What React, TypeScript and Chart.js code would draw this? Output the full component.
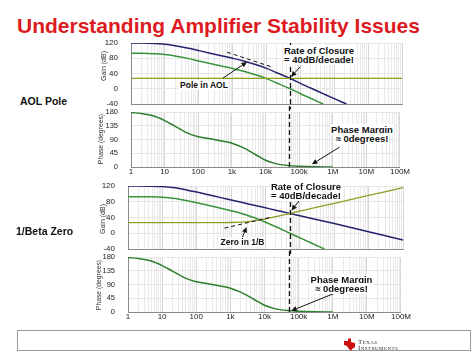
import React, { useEffect, useRef } from "react";
import { Chart, registerables } from "chart.js";
Chart.register(...registerables);

// ---------------- data ----------------
const decadeTicks = [1, 10, 100, 1e3, 1e4, 1e5, 1e6, 1e7, 1e8];
const decadeLabels = ["1", "10", "100", "1k", "10k", "100k", "1M", "10M", "100M"];
const gainTicks = [-40, 0, 40, 80, 120];
const phaseTicks = [0, 45, 90, 135, 180];

// top: pole in AOL
const topAolFreq = [1, 2, 5, 10, 20, 50, 100, 200, 500, 1e3, 2e3, 5e3, 1e4, 2e4, 5e4, 1e5, 2e5, 5e5, 1e6, 2.3e6];
const topAolGain = [120, 120, 119, 117, 113, 106, 100, 94, 86, 80, 73.5, 63, 53.5, 42, 27, 14, 2, -14, -26, -40];
const topLoopFreq = [1, 2, 5, 10, 20, 50, 100, 200, 500, 1e3, 2e3, 5e3, 1e4, 2e4, 5e4, 1e5, 2e5, 4.7e5];
const topLoopGain = [93, 93, 92, 90, 86, 79, 73, 67, 59, 53, 46.5, 36, 26.5, 15, 0, -13, -25, -40];
const topInvBetaFreq = [1, 1e8];
const topInvBetaGain = [27, 27];
const topPhaseFreq = [1, 2, 5, 10, 20, 50, 100, 200, 500, 1e3, 2e3, 5e3, 1e4, 2e4, 5e4, 1e5, 3e5, 1e6];
const topPhase = [178, 175, 166, 152, 134, 110, 99, 93, 85, 78, 65, 41, 22, 11, 4.5, 2.3, 0.8, 0.2];

// bottom: zero in 1/beta
const botAolFreq = [1, 5, 10, 20, 50, 100, 200, 500, 1e3, 2e3, 5e3, 1e4, 2e4, 5e4, 1e5, 1e6, 1e7, 1e8];
const botAolGain = [120, 119.5, 118.5, 116, 110, 104.5, 98.5, 90.5, 84.5, 78.5, 70.5, 64.5, 58.5, 50.5, 44.5, 24.5, 4, -17];
const botInvBetaFreq = [1, 100, 500, 1e3, 2e3, 3.5e3, 5e3, 1e4, 2e4, 5e4, 1e5, 1e6, 1e7, 1e8];
const botInvBetaGain = [27, 27, 27.1, 27.3, 28.2, 30, 31.8, 36.5, 42, 50, 56, 76, 96, 116];
const botLoopFreq = [1, 5, 10, 20, 50, 100, 200, 500, 1e3, 2e3, 5e3, 1e4, 2e4, 5e4, 1e5, 2e5, 5.2e5];
const botLoopGain = [93, 92.5, 91.5, 89, 83, 77.5, 71.5, 63.4, 57.2, 50.3, 38.7, 28, 16.5, 0.5, -11.5, -23.5, -40];
const botPhaseFreq = [1, 2, 5, 10, 20, 50, 100, 200, 500, 1e3, 2e3, 5e3, 1e4, 2e4, 5e4, 1e5, 3e5, 1e6];
const botPhase = [178, 175, 166, 152, 134, 110, 99, 93, 85, 78, 65, 41, 22, 11, 4.5, 2.3, 0.8, 0.2];

// annotation anchors (data space)
const topCrossFreq = 4.9e4;
const botCrossFreq = 5.3e4;
type Seg = { from: [number, number]; to: [number, number] };
const topPoleArrow: Seg = { from: [520, 28], to: [2660, 70] };
const topRateArrow: Seg = { from: [9.8e4, 57], to: [5.3e4, 31] };
const topAsymptote: Seg = { from: [680, 96], to: [14400, 57] };
const topPmArrow: Seg = { from: [1.6e6, 65], to: [2.4e5, 9] };
const botRateArrow: Seg = { from: [9.8e4, 84], to: [5.7e4, 58] };
const botZeroArrow: Seg = { from: [2.1e3, -12], to: [2.8e3, 16] };
const botAsymptote: Seg = { from: [640, 13], to: [14800, 41] };
const botPmArrow: Seg = { from: [1.17e6, 62], to: [6.1e4, 4] };

// ---------------- styles ----------------
const NAVY = "#23236e";
const GREEN = "#3a943a";
const PGREEN = "#2c7d2c";
const OLIVE = "#929c22";
const SANS = "'Liberation Sans', Arial, Helvetica, sans-serif";

function allLogTicks() {
  const t: number[] = [];
  for (let e = 0; e < 8; e++) for (let m = 1; m < 10; m++) t.push(m * Math.pow(10, e));
  t.push(1e8);
  return t;
}

type Series = { freq: number[]; vals: number[]; color: string; width: number };
type PlotProps = {
  left: number; top: number; width: number; height: number;
  padTop: number; padRight: number; padBottom: number;
  yMin: number; yMax: number; yTicks: number[]; yFont: number;
  series: Series[]; showX: boolean;
  vline: number; vlineFromTop: boolean;
  arrows: Seg[]; dashed: Seg[];
};

function Plot(p: PlotProps) {
  const ref = useRef<HTMLCanvasElement | null>(null);
  useEffect(() => {
    if (!ref.current) return;
    const annot = {
      id: "annot",
      afterDatasetsDraw(chart: any) {
        const { ctx, chartArea } = chart;
        const xs = chart.scales.x, ys = chart.scales.y;
        const px = (v: number) => xs.getPixelForValue(v);
        const py = (v: number) => ys.getPixelForValue(v);
        ctx.save();
        ctx.strokeStyle = "#111";
        ctx.fillStyle = "#111";
        ctx.setLineDash([4, 3]);
        ctx.lineWidth = 1;
        for (const d of p.dashed) {
          ctx.beginPath();
          ctx.moveTo(px(d.from[0]), py(d.from[1]));
          ctx.lineTo(px(d.to[0]), py(d.to[1]));
          ctx.stroke();
        }
        ctx.setLineDash([5, 3]);
        ctx.lineWidth = 1.3;
        const vx = Math.round(px(p.vline)) + 0.5;
        ctx.beginPath();
        ctx.moveTo(vx, p.vlineFromTop ? chartArea.top : 0);
        ctx.lineTo(vx, p.vlineFromTop ? chart.height : chartArea.bottom);
        ctx.stroke();
        ctx.setLineDash([]);
        ctx.lineWidth = 1;
        for (const a of p.arrows) {
          const x1 = px(a.from[0]), y1 = py(a.from[1]);
          const x2 = px(a.to[0]), y2 = py(a.to[1]);
          const ang = Math.atan2(y2 - y1, x2 - x1);
          const L = 5.5, W = 2.6;
          const bx = x2 - L * Math.cos(ang), by = y2 - L * Math.sin(ang);
          ctx.beginPath();
          ctx.moveTo(x1, y1);
          ctx.lineTo(bx, by);
          ctx.stroke();
          ctx.beginPath();
          ctx.moveTo(x2, y2);
          ctx.lineTo(bx + W * Math.sin(ang), by - W * Math.cos(ang));
          ctx.lineTo(bx - W * Math.sin(ang), by + W * Math.cos(ang));
          ctx.closePath();
          ctx.fill();
        }
        ctx.restore();
      },
    };
    const logTicks = allLogTicks();
    const chart = new Chart(ref.current, {
      type: "line",
      data: {
        datasets: p.series.map((s) => ({
          data: s.freq.map((f, i) => ({ x: f, y: s.vals[i] })),
          borderColor: s.color,
          borderWidth: s.width,
          pointRadius: 0,
          fill: false,
          cubicInterpolationMode: "monotone" as const,
        })),
      },
      options: {
        animation: false,
        responsive: false,
        devicePixelRatio: 1,
        layout: { padding: { top: p.padTop, right: p.padRight, bottom: p.padBottom, left: 0 } },
        plugins: { legend: { display: false }, tooltip: { enabled: false } },
        scales: {
          x: {
            type: "logarithmic",
            min: 1,
            max: 1e8,
            afterBuildTicks: (s: any) => {
              s.ticks = logTicks.map((v) => ({ value: v }));
            },
            afterFit: (s: any) => {
              s.height = p.showX ? 12 : 0;
            },
            ticks: {
              display: p.showX,
              autoSkip: false,
              maxRotation: 0,
              padding: 0,
              color: "#222",
              font: { size: 8, family: SANS },
              callback: (v: any) => {
                const i = decadeTicks.indexOf(Number(v));
                return i >= 0 ? decadeLabels[i] : "";
              },
            },
            grid: {
              drawTicks: false,
              color: (c: any) => (decadeTicks.indexOf(c.tick && c.tick.value) >= 0 ? "#d6d6d6" : "#e9e9e9"),
            },
            border: { color: "#8a8a8a" },
          },
          y: {
            min: p.yMin,
            max: p.yMax,
            afterBuildTicks: (s: any) => {
              s.ticks = p.yTicks.map((v) => ({ value: v }));
            },
            afterFit: (s: any) => {
              s.width = 41;
            },
            ticks: { padding: 0, color: "#222", font: { size: p.yFont, family: SANS } },
            grid: { drawTicks: true, tickLength: 13, tickColor: "rgba(0,0,0,0)", color: "#e6e6e6" },
            border: { color: "#8a8a8a" },
          },
        },
      },
      plugins: [annot],
    } as any);
    return () => chart.destroy();
  }, []);
  return (
    <canvas
      ref={ref}
      width={p.width}
      height={p.height}
      style={{ position: "absolute", left: p.left, top: p.top, width: p.width, height: p.height }}
    />
  );
}

const boldText = (s: number): React.CSSProperties => ({
  position: "absolute",
  fontFamily: SANS,
  fontWeight: "bold",
  fontSize: s,
  color: "#111",
  textAlign: "center",
  zIndex: 5,
});

function Note(props: { left: number; top: number; width: number; size: number; lines: string[]; lh: number }) {
  return (
    <div style={{ ...boldText(props.size), left: props.left, top: props.top, width: props.width, lineHeight: props.lh + "px" }}>
      {props.lines.map((l, i) => (
        <div key={i}>
          <span style={{ background: "#fff", padding: "0 1px" }}>{l}</span>
        </div>
      ))}
    </div>
  );
}

function VTitle(props: { cx: number; cy: number; text: string; size: number }) {
  return (
    <div
      style={{
        position: "absolute",
        left: props.cx,
        top: props.cy,
        transform: "translate(-50%,-50%) rotate(-90deg)",
        whiteSpace: "nowrap",
        fontFamily: SANS,
        fontSize: props.size,
        lineHeight: "8px",
        color: "#333",
        zIndex: 5,
      }}
    >
      {props.text}
    </div>
  );
}

export default function App() {
  return (
    <div style={{ position: "absolute", left: 0, top: 0, width: 474, height: 355, background: "#fff", overflow: "hidden" }}>
      <div
        style={{
          position: "absolute",
          left: 17,
          top: 14,
          fontFamily: SANS,
          fontWeight: "bold",
          fontSize: 21,
          color: "#dd1a21",
          whiteSpace: "nowrap",
        }}
      >
        Understanding Amplifier Stability Issues
      </div>

      <div style={{ ...boldText(10.5), left: 20, top: 95, lineHeight: "12px", textAlign: "left", whiteSpace: "nowrap" }}>AOL Pole</div>
      <div style={{ ...boldText(10.5), left: 16, top: 225, lineHeight: "12px", textAlign: "left", whiteSpace: "nowrap" }}>1/Beta Zero</div>

      <Plot
        left={90} top={36} width={320} height={73} padTop={7} padRight={8} padBottom={5}
        yMin={-40} yMax={120} yTicks={gainTicks} yFont={8}
        series={[
          { freq: topInvBetaFreq, vals: topInvBetaGain, color: OLIVE, width: 1.3 },
          { freq: topLoopFreq, vals: topLoopGain, color: GREEN, width: 1.5 },
          { freq: topAolFreq, vals: topAolGain, color: NAVY, width: 1.5 },
        ]}
        showX={false} vline={topCrossFreq} vlineFromTop={true}
        arrows={[topPoleArrow, topRateArrow]} dashed={[topAsymptote]}
      />
      <Plot
        left={90} top={106} width={320} height={73} padTop={6} padRight={8} padBottom={0}
        yMin={0} yMax={180} yTicks={phaseTicks} yFont={7.5}
        series={[{ freq: topPhaseFreq, vals: topPhase, color: PGREEN, width: 1.5 }]}
        showX={true} vline={topCrossFreq} vlineFromTop={false}
        arrows={[topPmArrow]} dashed={[]}
      />
      <Plot
        left={87} top={179} width={324} height={75} padTop={7} padRight={8} padBottom={5}
        yMin={-40} yMax={120} yTicks={gainTicks} yFont={8}
        series={[
          { freq: botInvBetaFreq, vals: botInvBetaGain, color: OLIVE, width: 1.3 },
          { freq: botLoopFreq, vals: botLoopGain, color: GREEN, width: 1.5 },
          { freq: botAolFreq, vals: botAolGain, color: NAVY, width: 1.5 },
        ]}
        showX={false} vline={botCrossFreq} vlineFromTop={true}
        arrows={[botRateArrow, botZeroArrow]} dashed={[botAsymptote]}
      />
      <Plot
        left={87} top={251} width={324} height={73} padTop={6} padRight={8} padBottom={0}
        yMin={0} yMax={180} yTicks={phaseTicks} yFont={7.5}
        series={[{ freq: botPhaseFreq, vals: botPhase, color: PGREEN, width: 1.5 }]}
        showX={true} vline={botCrossFreq} vlineFromTop={false}
        arrows={[botPmArrow]} dashed={[]}
      />

      <VTitle cx={103.5} cy={66} size={7} text="Gain (dB)" />
      <VTitle cx={101} cy={139} size={6.8} text="Phase (degrees)" />
      <VTitle cx={102.5} cy={219} size={7} text="Gain (dB)" />
      <VTitle cx={98.5} cy={285} size={6.8} text="Phase (degrees)" />

      <Note left={279} top={46} width={80} size={9.5} lh={9} lines={["Rate of Closure", "= 40dB/decade!"]} />
      <Note left={174} top={80.5} width={60} size={8.5} lh={9} lines={["Pole in AOL"]} />
      <Note left={322} top={125} width={80} size={9.5} lh={9} lines={["Phase Margin", "≈ 0degrees!"]} />
      <Note left={266} top={182} width={80} size={9.5} lh={9} lines={["Rate of Closure", "= 40dB/decade!"]} />
      <Note left={212.5} top={237.5} width={60} size={8.5} lh={9} lines={["Zero in 1/B"]} />
      <Note left={301.5} top={275} width={80} size={9.5} lh={9} lines={["Phase Margin", "≈ 0degrees!"]} />

      <div style={{ position: "absolute", left: 17, top: 330, width: 454, height: 21, border: "1px solid #9a9a9a", boxSizing: "border-box" }} />
      <svg style={{ position: "absolute", left: 343, top: 338 }} width={13} height={13} viewBox="0 0 13 13">
        <path d="M1 3 L5 3 L5 0.5 L8 0.5 L8 4 L12 5 L12 9 L9 11 L8 13 L6 11 L4 8 L1 7 Z" fill="#cc1111" />
      </svg>
      <div
        style={{
          position: "absolute",
          left: 358,
          top: 339,
          fontFamily: "'Liberation Serif', 'Times New Roman', serif",
          fontSize: 7,
          lineHeight: "6px",
          fontVariant: "small-caps",
          letterSpacing: 0.4,
          color: "#333",
          whiteSpace: "nowrap",
        }}
      >
        <div>Texas</div>
        <div>Instruments</div>
      </div>
    </div>
  );
}
